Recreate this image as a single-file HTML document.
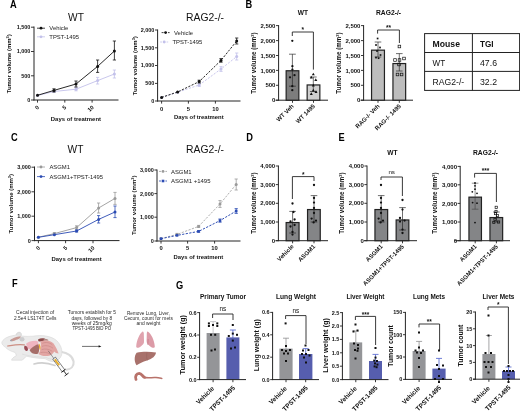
<!DOCTYPE html>
<html lang="en">
<head>
<meta charset="utf-8">
<title>Figure: tumor growth inhibition panels A-G</title>
<style>
html,body{margin:0;padding:0;background:#fff;}
body{width:520px;height:411px;overflow:hidden;}
svg{display:block;font-family:'Liberation Sans', Arial, sans-serif;}
</style>
</head>
<body>
<svg width="520" height="411" viewBox="0 0 520 411" font-family="Liberation Sans, Arial, sans-serif">
<rect x="0" y="0" width="520" height="411" fill="#ffffff"/>
<text transform="translate(10.00 7.70) scale(0.9 1)" x="0" y="0" font-size="10.3" font-weight="bold" fill="#000">A</text>
<text transform="translate(245.60 8.10) scale(0.9 1)" x="0" y="0" font-size="10.3" font-weight="bold" fill="#000">B</text>
<text transform="translate(11.00 141.40) scale(0.9 1)" x="0" y="0" font-size="10.3" font-weight="bold" fill="#000">C</text>
<text transform="translate(246.20 141.10) scale(0.9 1)" x="0" y="0" font-size="10.3" font-weight="bold" fill="#000">D</text>
<text transform="translate(338.60 141.20) scale(0.9 1)" x="0" y="0" font-size="10.3" font-weight="bold" fill="#000">E</text>
<text transform="translate(12.10 287.00) scale(0.9 1)" x="0" y="0" font-size="10.3" font-weight="bold" fill="#000">F</text>
<text transform="translate(176.00 289.10) scale(0.9 1)" x="0" y="0" font-size="10.3" font-weight="bold" fill="#000">G</text>
<text x="76.00" y="21.30" font-size="10.2" text-anchor="middle" fill="#111">WT</text>
<line x1="34.00" y1="26.50" x2="34.00" y2="100.50" stroke="#242424" stroke-width="1"/>
<line x1="31.00" y1="27.20" x2="34.00" y2="27.20" stroke="#242424" stroke-width="0.9"/>
<text x="30.40" y="29.18" font-size="5.5" text-anchor="end" fill="#111" font-weight="bold">1,500</text>
<line x1="31.00" y1="51.50" x2="34.00" y2="51.50" stroke="#242424" stroke-width="0.9"/>
<text x="30.40" y="53.48" font-size="5.5" text-anchor="end" fill="#111" font-weight="bold">1,000</text>
<line x1="31.00" y1="75.80" x2="34.00" y2="75.80" stroke="#242424" stroke-width="0.9"/>
<text x="30.40" y="77.78" font-size="5.5" text-anchor="end" fill="#111" font-weight="bold">500</text>
<line x1="31.00" y1="100.00" x2="34.00" y2="100.00" stroke="#242424" stroke-width="0.9"/>
<text x="30.40" y="101.98" font-size="5.5" text-anchor="end" fill="#111" font-weight="bold">0</text>
<line x1="33.50" y1="100.00" x2="118.50" y2="100.00" stroke="#242424" stroke-width="1"/>
<text x="10.80" y="63.80" font-size="6.0" font-weight="bold" text-anchor="middle" fill="#111" textLength="59" lengthAdjust="spacingAndGlyphs" transform="rotate(-90 10.80 63.80)">Tumor volume (mm<tspan font-size="3.9" dy="-2">3</tspan><tspan dy="2">)</tspan></text>
<line x1="37.50" y1="100.00" x2="37.50" y2="102.60" stroke="#242424" stroke-width="0.9"/>
<text x="39.50" y="107.70" font-size="5.6" text-anchor="end" fill="#111" font-weight="bold" transform="rotate(-45 39.50 107.70)">0</text>
<line x1="64.80" y1="100.00" x2="64.80" y2="102.60" stroke="#242424" stroke-width="0.9"/>
<text x="66.80" y="107.70" font-size="5.6" text-anchor="end" fill="#111" font-weight="bold" transform="rotate(-45 66.80 107.70)">5</text>
<line x1="92.10" y1="100.00" x2="92.10" y2="102.60" stroke="#242424" stroke-width="0.9"/>
<text x="94.10" y="107.70" font-size="5.6" text-anchor="end" fill="#111" font-weight="bold" transform="rotate(-45 94.10 107.70)">10</text>
<text x="75.90" y="120.60" font-size="5.9" text-anchor="middle" fill="#111" font-weight="bold" textLength="50.2" lengthAdjust="spacingAndGlyphs">Days of treatment</text>
<path d="M37.50 95.50 L54.00 91.50 L76.00 89.20 L97.60 80.60 L114.40 74.00" fill="none" stroke="#c3c1ea" stroke-width="0.9"/>
<circle cx="37.50" cy="95.50" r="1.5" fill="#c3c1ea"/>
<circle cx="54.00" cy="91.50" r="1.5" fill="#c3c1ea"/>
<line x1="76.00" y1="87.60" x2="76.00" y2="90.80" stroke="#c3c1ea" stroke-width="0.8"/>
<line x1="74.40" y1="87.60" x2="77.60" y2="87.60" stroke="#c3c1ea" stroke-width="0.8"/>
<line x1="74.40" y1="90.80" x2="77.60" y2="90.80" stroke="#c3c1ea" stroke-width="0.8"/>
<circle cx="76.00" cy="89.20" r="1.5" fill="#c3c1ea"/>
<line x1="97.60" y1="77.40" x2="97.60" y2="84.00" stroke="#c3c1ea" stroke-width="0.8"/>
<line x1="96.00" y1="77.40" x2="99.20" y2="77.40" stroke="#c3c1ea" stroke-width="0.8"/>
<line x1="96.00" y1="84.00" x2="99.20" y2="84.00" stroke="#c3c1ea" stroke-width="0.8"/>
<circle cx="97.60" cy="80.60" r="1.5" fill="#c3c1ea"/>
<line x1="114.40" y1="70.00" x2="114.40" y2="78.00" stroke="#c3c1ea" stroke-width="0.8"/>
<line x1="112.80" y1="70.00" x2="116.00" y2="70.00" stroke="#c3c1ea" stroke-width="0.8"/>
<line x1="112.80" y1="78.00" x2="116.00" y2="78.00" stroke="#c3c1ea" stroke-width="0.8"/>
<circle cx="114.40" cy="74.00" r="1.5" fill="#c3c1ea"/>
<path d="M37.50 95.30 L54.00 90.40 L76.00 84.00 L97.60 66.40 L114.40 51.00" fill="none" stroke="#111" stroke-width="0.9"/>
<circle cx="37.50" cy="95.30" r="1.5" fill="#111"/>
<line x1="54.00" y1="88.80" x2="54.00" y2="92.00" stroke="#111" stroke-width="0.8"/>
<line x1="52.40" y1="88.80" x2="55.60" y2="88.80" stroke="#111" stroke-width="0.8"/>
<line x1="52.40" y1="92.00" x2="55.60" y2="92.00" stroke="#111" stroke-width="0.8"/>
<circle cx="54.00" cy="90.40" r="1.5" fill="#111"/>
<line x1="76.00" y1="81.00" x2="76.00" y2="87.00" stroke="#111" stroke-width="0.8"/>
<line x1="74.40" y1="81.00" x2="77.60" y2="81.00" stroke="#111" stroke-width="0.8"/>
<line x1="74.40" y1="87.00" x2="77.60" y2="87.00" stroke="#111" stroke-width="0.8"/>
<circle cx="76.00" cy="84.00" r="1.5" fill="#111"/>
<line x1="97.60" y1="60.00" x2="97.60" y2="72.40" stroke="#111" stroke-width="0.8"/>
<line x1="96.00" y1="60.00" x2="99.20" y2="60.00" stroke="#111" stroke-width="0.8"/>
<line x1="96.00" y1="72.40" x2="99.20" y2="72.40" stroke="#111" stroke-width="0.8"/>
<circle cx="97.60" cy="66.40" r="1.5" fill="#111"/>
<line x1="114.40" y1="41.00" x2="114.40" y2="60.00" stroke="#111" stroke-width="0.8"/>
<line x1="112.80" y1="41.00" x2="116.00" y2="41.00" stroke="#111" stroke-width="0.8"/>
<line x1="112.80" y1="60.00" x2="116.00" y2="60.00" stroke="#111" stroke-width="0.8"/>
<circle cx="114.40" cy="51.00" r="1.5" fill="#111"/>
<line x1="37.00" y1="28.20" x2="45.00" y2="28.20" stroke="#111" stroke-width="0.8"/>
<circle cx="41.00" cy="28.20" r="1.4" fill="#111"/>
<text x="49.30" y="30.32" font-size="5.9" text-anchor="start" fill="#222">Vehicle</text>
<line x1="37.00" y1="36.80" x2="45.00" y2="36.80" stroke="#c3c1ea" stroke-width="0.8"/>
<circle cx="41.00" cy="36.80" r="1.4" fill="#c3c1ea"/>
<text x="49.30" y="38.92" font-size="5.9" text-anchor="start" fill="#222">TPST-1495</text>
<text x="205.00" y="21.30" font-size="10.2" text-anchor="middle" fill="#111" textLength="38" lengthAdjust="spacingAndGlyphs">RAG2-/-</text>
<line x1="157.60" y1="29.50" x2="157.60" y2="101.50" stroke="#242424" stroke-width="1"/>
<line x1="155.00" y1="30.00" x2="157.60" y2="30.00" stroke="#242424" stroke-width="0.9"/>
<text x="154.40" y="31.98" font-size="5.5" text-anchor="end" fill="#111" font-weight="bold">2,000</text>
<line x1="155.00" y1="47.80" x2="157.60" y2="47.80" stroke="#242424" stroke-width="0.9"/>
<text x="154.40" y="49.78" font-size="5.5" text-anchor="end" fill="#111" font-weight="bold">1,500</text>
<line x1="155.00" y1="65.50" x2="157.60" y2="65.50" stroke="#242424" stroke-width="0.9"/>
<text x="154.40" y="67.48" font-size="5.5" text-anchor="end" fill="#111" font-weight="bold">1,000</text>
<line x1="155.00" y1="83.40" x2="157.60" y2="83.40" stroke="#242424" stroke-width="0.9"/>
<text x="154.40" y="85.38" font-size="5.5" text-anchor="end" fill="#111" font-weight="bold">500</text>
<line x1="155.00" y1="101.00" x2="157.60" y2="101.00" stroke="#242424" stroke-width="0.9"/>
<text x="154.40" y="102.98" font-size="5.5" text-anchor="end" fill="#111" font-weight="bold">0</text>
<line x1="157.10" y1="101.00" x2="240.50" y2="101.00" stroke="#242424" stroke-width="1"/>
<text x="136.80" y="65.70" font-size="6.0" font-weight="bold" text-anchor="middle" fill="#111" textLength="59" lengthAdjust="spacingAndGlyphs" transform="rotate(-90 136.80 65.70)">Tumor volume (mm<tspan font-size="3.9" dy="-2">3</tspan><tspan dy="2">)</tspan></text>
<line x1="161.60" y1="101.00" x2="161.60" y2="103.60" stroke="#242424" stroke-width="0.9"/>
<text x="161.60" y="110.50" font-size="5.8" text-anchor="middle" fill="#111" font-weight="bold">0</text>
<line x1="188.40" y1="101.00" x2="188.40" y2="103.60" stroke="#242424" stroke-width="0.9"/>
<text x="188.40" y="110.50" font-size="5.8" text-anchor="middle" fill="#111" font-weight="bold">5</text>
<line x1="215.40" y1="101.00" x2="215.40" y2="103.60" stroke="#242424" stroke-width="0.9"/>
<text x="215.40" y="110.50" font-size="5.8" text-anchor="middle" fill="#111" font-weight="bold">10</text>
<text x="198.80" y="118.60" font-size="5.9" text-anchor="middle" fill="#111" font-weight="bold" textLength="49.8" lengthAdjust="spacingAndGlyphs">Days of treatment</text>
<path d="M161.60 97.40 L177.60 92.20 L199.20 85.00 L221.00 69.00 L236.70 56.60" fill="none" stroke="#c3c1ea" stroke-width="0.9" stroke-dasharray="2.2 1.4"/>
<circle cx="161.60" cy="97.40" r="1.5" fill="#c3c1ea"/>
<circle cx="177.60" cy="92.20" r="1.5" fill="#c3c1ea"/>
<line x1="199.20" y1="83.60" x2="199.20" y2="86.40" stroke="#c3c1ea" stroke-width="0.8"/>
<line x1="197.60" y1="83.60" x2="200.80" y2="83.60" stroke="#c3c1ea" stroke-width="0.8"/>
<line x1="197.60" y1="86.40" x2="200.80" y2="86.40" stroke="#c3c1ea" stroke-width="0.8"/>
<circle cx="199.20" cy="85.00" r="1.5" fill="#c3c1ea"/>
<line x1="221.00" y1="66.60" x2="221.00" y2="71.40" stroke="#c3c1ea" stroke-width="0.8"/>
<line x1="219.40" y1="66.60" x2="222.60" y2="66.60" stroke="#c3c1ea" stroke-width="0.8"/>
<line x1="219.40" y1="71.40" x2="222.60" y2="71.40" stroke="#c3c1ea" stroke-width="0.8"/>
<circle cx="221.00" cy="69.00" r="1.5" fill="#c3c1ea"/>
<line x1="236.70" y1="53.00" x2="236.70" y2="60.00" stroke="#c3c1ea" stroke-width="0.8"/>
<line x1="235.10" y1="53.00" x2="238.30" y2="53.00" stroke="#c3c1ea" stroke-width="0.8"/>
<line x1="235.10" y1="60.00" x2="238.30" y2="60.00" stroke="#c3c1ea" stroke-width="0.8"/>
<circle cx="236.70" cy="56.60" r="1.5" fill="#c3c1ea"/>
<path d="M161.60 97.40 L177.60 92.00 L199.20 81.60 L221.00 60.40 L236.70 41.00" fill="none" stroke="#111" stroke-width="0.9" stroke-dasharray="2.2 1.4"/>
<circle cx="161.60" cy="97.40" r="1.5" fill="#111"/>
<circle cx="177.60" cy="92.00" r="1.5" fill="#111"/>
<line x1="199.20" y1="80.20" x2="199.20" y2="83.00" stroke="#111" stroke-width="0.8"/>
<line x1="197.60" y1="80.20" x2="200.80" y2="80.20" stroke="#111" stroke-width="0.8"/>
<line x1="197.60" y1="83.00" x2="200.80" y2="83.00" stroke="#111" stroke-width="0.8"/>
<circle cx="199.20" cy="81.60" r="1.5" fill="#111"/>
<line x1="221.00" y1="58.60" x2="221.00" y2="62.20" stroke="#111" stroke-width="0.8"/>
<line x1="219.40" y1="58.60" x2="222.60" y2="58.60" stroke="#111" stroke-width="0.8"/>
<line x1="219.40" y1="62.20" x2="222.60" y2="62.20" stroke="#111" stroke-width="0.8"/>
<circle cx="221.00" cy="60.40" r="1.5" fill="#111"/>
<line x1="236.70" y1="38.00" x2="236.70" y2="44.00" stroke="#111" stroke-width="0.8"/>
<line x1="235.10" y1="38.00" x2="238.30" y2="38.00" stroke="#111" stroke-width="0.8"/>
<line x1="235.10" y1="44.00" x2="238.30" y2="44.00" stroke="#111" stroke-width="0.8"/>
<circle cx="236.70" cy="41.00" r="1.5" fill="#111"/>
<line x1="161.60" y1="32.60" x2="169.60" y2="32.60" stroke="#111" stroke-width="0.8" stroke-dasharray="2 1.2"/>
<circle cx="165.60" cy="32.60" r="1.4" fill="#111"/>
<text x="174.00" y="34.72" font-size="5.9" text-anchor="start" fill="#222">Vehicle</text>
<line x1="160.20" y1="42.00" x2="168.20" y2="42.00" stroke="#c3c1ea" stroke-width="0.8" stroke-dasharray="2 1.2"/>
<circle cx="164.20" cy="42.00" r="1.4" fill="#c3c1ea"/>
<text x="172.50" y="44.12" font-size="5.9" text-anchor="start" fill="#222">TPST-1495</text>
<text x="303.00" y="15.20" font-size="6.6" text-anchor="middle" fill="#111" font-weight="bold">WT</text>
<line x1="278.60" y1="25.10" x2="278.60" y2="100.70" stroke="#242424" stroke-width="1"/>
<line x1="276.00" y1="25.60" x2="278.60" y2="25.60" stroke="#242424" stroke-width="0.9"/>
<text x="275.40" y="27.76" font-size="6.0" text-anchor="end" fill="#111" font-weight="bold">2,500</text>
<line x1="276.00" y1="40.60" x2="278.60" y2="40.60" stroke="#242424" stroke-width="0.9"/>
<text x="275.40" y="42.76" font-size="6.0" text-anchor="end" fill="#111" font-weight="bold">2,000</text>
<line x1="276.00" y1="55.50" x2="278.60" y2="55.50" stroke="#242424" stroke-width="0.9"/>
<text x="275.40" y="57.66" font-size="6.0" text-anchor="end" fill="#111" font-weight="bold">1,500</text>
<line x1="276.00" y1="70.40" x2="278.60" y2="70.40" stroke="#242424" stroke-width="0.9"/>
<text x="275.40" y="72.56" font-size="6.0" text-anchor="end" fill="#111" font-weight="bold">1,000</text>
<line x1="276.00" y1="85.30" x2="278.60" y2="85.30" stroke="#242424" stroke-width="0.9"/>
<text x="275.40" y="87.46" font-size="6.0" text-anchor="end" fill="#111" font-weight="bold">500</text>
<line x1="276.00" y1="100.20" x2="278.60" y2="100.20" stroke="#242424" stroke-width="0.9"/>
<text x="275.40" y="102.36" font-size="6.0" text-anchor="end" fill="#111" font-weight="bold">0</text>
<line x1="275.50" y1="100.20" x2="328.00" y2="100.20" stroke="#242424" stroke-width="1"/>
<text x="255.70" y="63.00" font-size="6.3" font-weight="bold" text-anchor="middle" fill="#111" textLength="61.3" lengthAdjust="spacingAndGlyphs" transform="rotate(-90 255.70 63.00)">Tumor volume (mm<tspan font-size="4.1" dy="-2">3</tspan><tspan dy="2">)</tspan></text>
<rect x="286.15" y="70.75" width="12.70" height="29.45" fill="#7d7d7d" stroke="#222" stroke-width="1.2"/>
<rect x="307.15" y="84.95" width="12.70" height="15.25" fill="#cfcfcf" stroke="#222" stroke-width="1.2"/>
<line x1="292.40" y1="54.20" x2="292.40" y2="86.20" stroke="#222" stroke-width="0.65"/>
<line x1="289.00" y1="54.20" x2="295.80" y2="54.20" stroke="#222" stroke-width="0.65"/>
<line x1="289.00" y1="86.20" x2="295.80" y2="86.20" stroke="#222" stroke-width="0.65"/>
<line x1="313.30" y1="77.00" x2="313.30" y2="91.50" stroke="#222" stroke-width="0.65"/>
<line x1="309.90" y1="77.00" x2="316.70" y2="77.00" stroke="#222" stroke-width="0.65"/>
<line x1="309.90" y1="91.50" x2="316.70" y2="91.50" stroke="#222" stroke-width="0.65"/>
<circle cx="292.30" cy="40.80" r="1.15" fill="#111"/>
<circle cx="292.40" cy="66.20" r="1.15" fill="#111"/>
<circle cx="292.40" cy="69.60" r="1.15" fill="#111"/>
<circle cx="290.00" cy="77.30" r="1.15" fill="#111"/>
<circle cx="294.50" cy="75.20" r="1.15" fill="#111"/>
<circle cx="292.30" cy="86.20" r="1.15" fill="#111"/>
<circle cx="292.30" cy="90.20" r="1.15" fill="#111"/>
<path d="M313.30 72.64 L314.80 75.37 L311.81 75.37Z" fill="#111"/>
<path d="M311.30 75.74 L312.80 78.47 L309.81 78.47Z" fill="#111"/>
<path d="M315.80 78.24 L317.30 80.97 L314.31 80.97Z" fill="#111"/>
<path d="M313.30 83.74 L314.80 86.47 L311.81 86.47Z" fill="#111"/>
<path d="M313.30 88.74 L314.80 91.47 L311.81 91.47Z" fill="#111"/>
<path d="M316.00 90.24 L317.50 92.97 L314.50 92.97Z" fill="#111"/>
<path d="M311.30 92.24 L312.80 94.97 L309.81 94.97Z" fill="#111"/>
<path d="M292.30 36.00 V32.00 H313.40 V69.60" fill="none" stroke="#242424" stroke-width="0.9"/>
<text x="302.85" y="31.60" font-size="6.5" text-anchor="middle" fill="#111" font-weight="bold">*</text>
<line x1="292.50" y1="100.20" x2="292.50" y2="102.80" stroke="#242424" stroke-width="0.9"/>
<line x1="313.50" y1="100.20" x2="313.50" y2="102.80" stroke="#242424" stroke-width="0.9"/>
<text x="294.20" y="106.60" font-size="6.0" text-anchor="end" fill="#111" font-weight="bold" transform="rotate(-45 294.20 106.60)">WT Veh</text>
<text x="315.40" y="106.60" font-size="6.0" text-anchor="end" fill="#111" font-weight="bold" transform="rotate(-45 315.40 106.60)">WT 1495</text>
<text x="388.50" y="15.20" font-size="6.6" text-anchor="middle" fill="#111" font-weight="bold" textLength="25" lengthAdjust="spacingAndGlyphs">RAG2-/-</text>
<line x1="363.60" y1="25.10" x2="363.60" y2="100.70" stroke="#242424" stroke-width="1"/>
<line x1="361.00" y1="25.60" x2="363.60" y2="25.60" stroke="#242424" stroke-width="0.9"/>
<text x="360.40" y="27.76" font-size="6.0" text-anchor="end" fill="#111" font-weight="bold">2,500</text>
<line x1="361.00" y1="40.60" x2="363.60" y2="40.60" stroke="#242424" stroke-width="0.9"/>
<text x="360.40" y="42.76" font-size="6.0" text-anchor="end" fill="#111" font-weight="bold">2,000</text>
<line x1="361.00" y1="55.50" x2="363.60" y2="55.50" stroke="#242424" stroke-width="0.9"/>
<text x="360.40" y="57.66" font-size="6.0" text-anchor="end" fill="#111" font-weight="bold">1,500</text>
<line x1="361.00" y1="70.40" x2="363.60" y2="70.40" stroke="#242424" stroke-width="0.9"/>
<text x="360.40" y="72.56" font-size="6.0" text-anchor="end" fill="#111" font-weight="bold">1,000</text>
<line x1="361.00" y1="85.30" x2="363.60" y2="85.30" stroke="#242424" stroke-width="0.9"/>
<text x="360.40" y="87.46" font-size="6.0" text-anchor="end" fill="#111" font-weight="bold">500</text>
<line x1="361.00" y1="100.20" x2="363.60" y2="100.20" stroke="#242424" stroke-width="0.9"/>
<text x="360.40" y="102.36" font-size="6.0" text-anchor="end" fill="#111" font-weight="bold">0</text>
<line x1="360.50" y1="100.20" x2="413.00" y2="100.20" stroke="#242424" stroke-width="1"/>
<text x="340.50" y="63.00" font-size="6.3" font-weight="bold" text-anchor="middle" fill="#111" textLength="61.3" lengthAdjust="spacingAndGlyphs" transform="rotate(-90 340.50 63.00)">Tumor volume (mm<tspan font-size="4.1" dy="-2">3</tspan><tspan dy="2">)</tspan></text>
<rect x="371.55" y="50.15" width="12.90" height="50.05" fill="#bdbdbd" stroke="#222" stroke-width="1.2"/>
<rect x="392.95" y="63.55" width="12.70" height="36.65" fill="#bdbdbd" stroke="#222" stroke-width="1.2"/>
<line x1="378.00" y1="42.00" x2="378.00" y2="57.00" stroke="#222" stroke-width="0.65"/>
<line x1="374.70" y1="42.00" x2="381.30" y2="42.00" stroke="#222" stroke-width="0.65"/>
<line x1="374.70" y1="57.00" x2="381.30" y2="57.00" stroke="#222" stroke-width="0.65"/>
<line x1="399.30" y1="53.60" x2="399.30" y2="71.00" stroke="#222" stroke-width="0.65"/>
<line x1="396.00" y1="53.60" x2="402.60" y2="53.60" stroke="#222" stroke-width="0.65"/>
<line x1="396.00" y1="71.00" x2="402.60" y2="71.00" stroke="#222" stroke-width="0.65"/>
<rect x="376.75" y="37.65" width="1.70" height="1.70" fill="#111"/>
<rect x="375.15" y="44.15" width="1.70" height="1.70" fill="#111"/>
<rect x="379.15" y="46.65" width="1.70" height="1.70" fill="#111"/>
<rect x="376.15" y="50.15" width="1.70" height="1.70" fill="#111"/>
<rect x="379.65" y="54.15" width="1.70" height="1.70" fill="#111"/>
<rect x="375.15" y="56.75" width="1.70" height="1.70" fill="#111"/>
<rect x="377.75" y="57.35" width="1.70" height="1.70" fill="#111"/>
<rect x="398.10" y="45.20" width="2.60" height="2.60" fill="none" stroke="#111" stroke-width="0.7"/>
<rect x="393.70" y="58.70" width="2.60" height="2.60" fill="none" stroke="#111" stroke-width="0.7"/>
<rect x="398.20" y="58.70" width="2.60" height="2.60" fill="none" stroke="#111" stroke-width="0.7"/>
<rect x="402.70" y="57.20" width="2.60" height="2.60" fill="none" stroke="#111" stroke-width="0.7"/>
<rect x="397.70" y="63.20" width="2.60" height="2.60" fill="none" stroke="#111" stroke-width="0.7"/>
<rect x="396.20" y="73.20" width="2.60" height="2.60" fill="none" stroke="#111" stroke-width="0.7"/>
<rect x="400.30" y="73.20" width="2.60" height="2.60" fill="none" stroke="#111" stroke-width="0.7"/>
<path d="M377.60 33.60 V30.00 H399.40 V43.00" fill="none" stroke="#242424" stroke-width="0.9"/>
<text x="388.50" y="30.00" font-size="6.5" text-anchor="middle" fill="#111" font-weight="bold">**</text>
<line x1="378.00" y1="100.20" x2="378.00" y2="102.80" stroke="#242424" stroke-width="0.9"/>
<line x1="399.30" y1="100.20" x2="399.30" y2="102.80" stroke="#242424" stroke-width="0.9"/>
<text x="380.00" y="106.60" font-size="6.0" text-anchor="end" fill="#111" font-weight="bold" transform="rotate(-45 380.00 106.60)">RAG-/- Veh</text>
<text x="401.40" y="106.60" font-size="6.0" text-anchor="end" fill="#111" font-weight="bold" transform="rotate(-45 401.40 106.60)">RAG-/- 1495</text>
<g stroke="#222" stroke-width="1" fill="none">
<rect x="424.6" y="33.6" width="95" height="56.8"/>
<path d="M424.6 52.5H520M424.6 71.4H520M472.4 33.6V90.4"/>
</g>
<text x="432.60" y="46.50" font-size="8.9" text-anchor="start" fill="#111" font-weight="bold" textLength="27.4" lengthAdjust="spacingAndGlyphs">Mouse</text>
<text x="480.00" y="46.50" font-size="8.9" text-anchor="start" fill="#111" font-weight="bold" textLength="13.6" lengthAdjust="spacingAndGlyphs">TGI</text>
<text x="432.60" y="65.70" font-size="8.9" text-anchor="start" fill="#111" textLength="12.6" lengthAdjust="spacingAndGlyphs">WT</text>
<text x="480.00" y="65.70" font-size="8.9" text-anchor="start" fill="#111" textLength="17" lengthAdjust="spacingAndGlyphs">47.6</text>
<text x="432.60" y="84.70" font-size="8.9" text-anchor="start" fill="#111" textLength="31.6" lengthAdjust="spacingAndGlyphs">RAG2-/-</text>
<text x="480.00" y="84.70" font-size="8.9" text-anchor="start" fill="#111" textLength="17" lengthAdjust="spacingAndGlyphs">32.2</text>
<text x="75.50" y="152.80" font-size="10.2" text-anchor="middle" fill="#111">WT</text>
<line x1="34.50" y1="166.50" x2="34.50" y2="241.10" stroke="#242424" stroke-width="1"/>
<line x1="31.50" y1="167.20" x2="34.50" y2="167.20" stroke="#242424" stroke-width="0.9"/>
<text x="30.90" y="169.18" font-size="5.5" text-anchor="end" fill="#111" font-weight="bold">3,000</text>
<line x1="31.50" y1="191.80" x2="34.50" y2="191.80" stroke="#242424" stroke-width="0.9"/>
<text x="30.90" y="193.78" font-size="5.5" text-anchor="end" fill="#111" font-weight="bold">2,000</text>
<line x1="31.50" y1="216.20" x2="34.50" y2="216.20" stroke="#242424" stroke-width="0.9"/>
<text x="30.90" y="218.18" font-size="5.5" text-anchor="end" fill="#111" font-weight="bold">1,000</text>
<line x1="31.50" y1="240.60" x2="34.50" y2="240.60" stroke="#242424" stroke-width="0.9"/>
<text x="30.90" y="242.58" font-size="5.5" text-anchor="end" fill="#111" font-weight="bold">0</text>
<line x1="34.00" y1="240.60" x2="119.50" y2="240.60" stroke="#242424" stroke-width="1"/>
<text x="12.60" y="203.70" font-size="6.0" font-weight="bold" text-anchor="middle" fill="#111" textLength="59.5" lengthAdjust="spacingAndGlyphs" transform="rotate(-90 12.60 203.70)">Tumor volume (mm<tspan font-size="3.9" dy="-2">3</tspan><tspan dy="2">)</tspan></text>
<line x1="38.40" y1="240.60" x2="38.40" y2="243.20" stroke="#242424" stroke-width="0.9"/>
<text x="40.40" y="248.30" font-size="5.6" text-anchor="end" fill="#111" font-weight="bold" transform="rotate(-45 40.40 248.30)">0</text>
<line x1="65.60" y1="240.60" x2="65.60" y2="243.20" stroke="#242424" stroke-width="0.9"/>
<text x="67.60" y="248.30" font-size="5.6" text-anchor="end" fill="#111" font-weight="bold" transform="rotate(-45 67.60 248.30)">5</text>
<line x1="93.00" y1="240.60" x2="93.00" y2="243.20" stroke="#242424" stroke-width="0.9"/>
<text x="95.00" y="248.30" font-size="5.6" text-anchor="end" fill="#111" font-weight="bold" transform="rotate(-45 95.00 248.30)">10</text>
<text x="76.60" y="260.60" font-size="5.9" text-anchor="middle" fill="#111" font-weight="bold" textLength="50.2" lengthAdjust="spacingAndGlyphs">Days of treatment</text>
<path d="M38.40 237.20 L54.40 233.60 L76.60 227.60 L98.60 208.00 L115.00 198.40" fill="none" stroke="#9a9a9a" stroke-width="0.9"/>
<circle cx="38.40" cy="237.20" r="1.5" fill="#9a9a9a"/>
<line x1="54.40" y1="232.60" x2="54.40" y2="234.60" stroke="#9a9a9a" stroke-width="0.8"/>
<line x1="52.80" y1="232.60" x2="56.00" y2="232.60" stroke="#9a9a9a" stroke-width="0.8"/>
<line x1="52.80" y1="234.60" x2="56.00" y2="234.60" stroke="#9a9a9a" stroke-width="0.8"/>
<circle cx="54.40" cy="233.60" r="1.5" fill="#9a9a9a"/>
<line x1="76.60" y1="225.80" x2="76.60" y2="229.40" stroke="#9a9a9a" stroke-width="0.8"/>
<line x1="75.00" y1="225.80" x2="78.20" y2="225.80" stroke="#9a9a9a" stroke-width="0.8"/>
<line x1="75.00" y1="229.40" x2="78.20" y2="229.40" stroke="#9a9a9a" stroke-width="0.8"/>
<circle cx="76.60" cy="227.60" r="1.5" fill="#9a9a9a"/>
<line x1="98.60" y1="203.00" x2="98.60" y2="213.00" stroke="#9a9a9a" stroke-width="0.8"/>
<line x1="97.00" y1="203.00" x2="100.20" y2="203.00" stroke="#9a9a9a" stroke-width="0.8"/>
<line x1="97.00" y1="213.00" x2="100.20" y2="213.00" stroke="#9a9a9a" stroke-width="0.8"/>
<circle cx="98.60" cy="208.00" r="1.5" fill="#9a9a9a"/>
<line x1="115.00" y1="192.40" x2="115.00" y2="204.40" stroke="#9a9a9a" stroke-width="0.8"/>
<line x1="113.40" y1="192.40" x2="116.60" y2="192.40" stroke="#9a9a9a" stroke-width="0.8"/>
<line x1="113.40" y1="204.40" x2="116.60" y2="204.40" stroke="#9a9a9a" stroke-width="0.8"/>
<circle cx="115.00" cy="198.40" r="1.5" fill="#9a9a9a"/>
<path d="M38.40 237.30 L54.40 234.70 L76.60 231.00 L98.60 219.40 L115.00 212.00" fill="none" stroke="#2b4bb3" stroke-width="0.9"/>
<circle cx="38.40" cy="237.30" r="1.5" fill="#2b4bb3"/>
<circle cx="54.40" cy="234.70" r="1.5" fill="#2b4bb3"/>
<line x1="76.60" y1="230.00" x2="76.60" y2="232.00" stroke="#2b4bb3" stroke-width="0.8"/>
<line x1="75.00" y1="230.00" x2="78.20" y2="230.00" stroke="#2b4bb3" stroke-width="0.8"/>
<line x1="75.00" y1="232.00" x2="78.20" y2="232.00" stroke="#2b4bb3" stroke-width="0.8"/>
<circle cx="76.60" cy="231.00" r="1.5" fill="#2b4bb3"/>
<line x1="98.60" y1="215.60" x2="98.60" y2="223.00" stroke="#2b4bb3" stroke-width="0.8"/>
<line x1="97.00" y1="215.60" x2="100.20" y2="215.60" stroke="#2b4bb3" stroke-width="0.8"/>
<line x1="97.00" y1="223.00" x2="100.20" y2="223.00" stroke="#2b4bb3" stroke-width="0.8"/>
<circle cx="98.60" cy="219.40" r="1.5" fill="#2b4bb3"/>
<line x1="115.00" y1="206.00" x2="115.00" y2="217.60" stroke="#2b4bb3" stroke-width="0.8"/>
<line x1="113.40" y1="206.00" x2="116.60" y2="206.00" stroke="#2b4bb3" stroke-width="0.8"/>
<line x1="113.40" y1="217.60" x2="116.60" y2="217.60" stroke="#2b4bb3" stroke-width="0.8"/>
<circle cx="115.00" cy="212.00" r="1.5" fill="#2b4bb3"/>
<line x1="37.00" y1="167.00" x2="45.00" y2="167.00" stroke="#9a9a9a" stroke-width="0.8"/>
<circle cx="41.00" cy="167.00" r="1.4" fill="#9a9a9a"/>
<text x="49.40" y="169.12" font-size="5.9" text-anchor="start" fill="#222">ASGM1</text>
<line x1="37.00" y1="176.60" x2="45.00" y2="176.60" stroke="#2b4bb3" stroke-width="0.8"/>
<circle cx="41.00" cy="176.60" r="1.4" fill="#2b4bb3"/>
<text x="49.40" y="178.72" font-size="5.9" text-anchor="start" fill="#222" textLength="53.6" lengthAdjust="spacingAndGlyphs">ASGM1+TPST-1495</text>
<text x="205.00" y="152.80" font-size="10.2" text-anchor="middle" fill="#111" textLength="38" lengthAdjust="spacingAndGlyphs">RAG2-/-</text>
<line x1="157.00" y1="169.50" x2="157.00" y2="241.50" stroke="#242424" stroke-width="1"/>
<line x1="154.40" y1="170.00" x2="157.00" y2="170.00" stroke="#242424" stroke-width="0.9"/>
<text x="153.80" y="171.98" font-size="5.5" text-anchor="end" fill="#111" font-weight="bold">3,000</text>
<line x1="154.40" y1="193.60" x2="157.00" y2="193.60" stroke="#242424" stroke-width="0.9"/>
<text x="153.80" y="195.58" font-size="5.5" text-anchor="end" fill="#111" font-weight="bold">2,000</text>
<line x1="154.40" y1="217.20" x2="157.00" y2="217.20" stroke="#242424" stroke-width="0.9"/>
<text x="153.80" y="219.18" font-size="5.5" text-anchor="end" fill="#111" font-weight="bold">1,000</text>
<line x1="154.40" y1="241.00" x2="157.00" y2="241.00" stroke="#242424" stroke-width="0.9"/>
<text x="153.80" y="242.98" font-size="5.5" text-anchor="end" fill="#111" font-weight="bold">0</text>
<line x1="156.50" y1="241.00" x2="240.50" y2="241.00" stroke="#242424" stroke-width="1"/>
<text x="136.20" y="205.30" font-size="6.0" font-weight="bold" text-anchor="middle" fill="#111" textLength="59.5" lengthAdjust="spacingAndGlyphs" transform="rotate(-90 136.20 205.30)">Tumor volume (mm<tspan font-size="3.9" dy="-2">3</tspan><tspan dy="2">)</tspan></text>
<line x1="161.00" y1="241.00" x2="161.00" y2="243.60" stroke="#242424" stroke-width="0.9"/>
<text x="161.00" y="250.40" font-size="5.8" text-anchor="middle" fill="#111" font-weight="bold">0</text>
<line x1="187.60" y1="241.00" x2="187.60" y2="243.60" stroke="#242424" stroke-width="0.9"/>
<text x="187.60" y="250.40" font-size="5.8" text-anchor="middle" fill="#111" font-weight="bold">5</text>
<line x1="214.60" y1="241.00" x2="214.60" y2="243.60" stroke="#242424" stroke-width="0.9"/>
<text x="214.60" y="250.40" font-size="5.8" text-anchor="middle" fill="#111" font-weight="bold">10</text>
<text x="198.40" y="259.00" font-size="5.9" text-anchor="middle" fill="#111" font-weight="bold" textLength="49.8" lengthAdjust="spacingAndGlyphs">Days of treatment</text>
<path d="M161.00 238.60 L177.00 234.40 L198.60 226.40 L220.00 204.00 L236.20 184.40" fill="none" stroke="#9a9a9a" stroke-width="0.8" stroke-dasharray="2.2 1.4"/>
<circle cx="161.00" cy="238.60" r="1.5" fill="#9a9a9a"/>
<line x1="177.00" y1="233.40" x2="177.00" y2="235.40" stroke="#9a9a9a" stroke-width="0.8"/>
<line x1="175.40" y1="233.40" x2="178.60" y2="233.40" stroke="#9a9a9a" stroke-width="0.8"/>
<line x1="175.40" y1="235.40" x2="178.60" y2="235.40" stroke="#9a9a9a" stroke-width="0.8"/>
<circle cx="177.00" cy="234.40" r="1.5" fill="#9a9a9a"/>
<line x1="198.60" y1="225.40" x2="198.60" y2="227.40" stroke="#9a9a9a" stroke-width="0.8"/>
<line x1="197.00" y1="225.40" x2="200.20" y2="225.40" stroke="#9a9a9a" stroke-width="0.8"/>
<line x1="197.00" y1="227.40" x2="200.20" y2="227.40" stroke="#9a9a9a" stroke-width="0.8"/>
<circle cx="198.60" cy="226.40" r="1.5" fill="#9a9a9a"/>
<line x1="220.00" y1="200.60" x2="220.00" y2="207.40" stroke="#9a9a9a" stroke-width="0.8"/>
<line x1="218.40" y1="200.60" x2="221.60" y2="200.60" stroke="#9a9a9a" stroke-width="0.8"/>
<line x1="218.40" y1="207.40" x2="221.60" y2="207.40" stroke="#9a9a9a" stroke-width="0.8"/>
<circle cx="220.00" cy="204.00" r="1.5" fill="#9a9a9a"/>
<line x1="236.20" y1="179.00" x2="236.20" y2="190.00" stroke="#9a9a9a" stroke-width="0.8"/>
<line x1="234.60" y1="179.00" x2="237.80" y2="179.00" stroke="#9a9a9a" stroke-width="0.8"/>
<line x1="234.60" y1="190.00" x2="237.80" y2="190.00" stroke="#9a9a9a" stroke-width="0.8"/>
<circle cx="236.20" cy="184.40" r="1.5" fill="#9a9a9a"/>
<path d="M161.00 238.70 L177.00 235.40 L198.60 231.40 L220.00 220.60 L236.20 211.00" fill="none" stroke="#2b4bb3" stroke-width="1" stroke-dasharray="2.2 1.4"/>
<rect x="159.70" y="237.40" width="2.60" height="2.60" fill="#2b4bb3"/>
<rect x="175.70" y="234.10" width="2.60" height="2.60" fill="#2b4bb3"/>
<line x1="198.60" y1="230.60" x2="198.60" y2="232.20" stroke="#2b4bb3" stroke-width="0.8"/>
<line x1="197.00" y1="230.60" x2="200.20" y2="230.60" stroke="#2b4bb3" stroke-width="0.8"/>
<line x1="197.00" y1="232.20" x2="200.20" y2="232.20" stroke="#2b4bb3" stroke-width="0.8"/>
<rect x="197.30" y="230.10" width="2.60" height="2.60" fill="#2b4bb3"/>
<line x1="220.00" y1="219.00" x2="220.00" y2="222.20" stroke="#2b4bb3" stroke-width="0.8"/>
<line x1="218.40" y1="219.00" x2="221.60" y2="219.00" stroke="#2b4bb3" stroke-width="0.8"/>
<line x1="218.40" y1="222.20" x2="221.60" y2="222.20" stroke="#2b4bb3" stroke-width="0.8"/>
<rect x="218.70" y="219.30" width="2.60" height="2.60" fill="#2b4bb3"/>
<line x1="236.20" y1="208.60" x2="236.20" y2="213.40" stroke="#2b4bb3" stroke-width="0.8"/>
<line x1="234.60" y1="208.60" x2="237.80" y2="208.60" stroke="#2b4bb3" stroke-width="0.8"/>
<line x1="234.60" y1="213.40" x2="237.80" y2="213.40" stroke="#2b4bb3" stroke-width="0.8"/>
<rect x="234.90" y="209.70" width="2.60" height="2.60" fill="#2b4bb3"/>
<line x1="159.00" y1="171.40" x2="167.00" y2="171.40" stroke="#9a9a9a" stroke-width="0.8" stroke-dasharray="2 1.2"/>
<circle cx="163.00" cy="171.40" r="1.4" fill="#9a9a9a"/>
<text x="171.00" y="173.52" font-size="5.9" text-anchor="start" fill="#222">ASGM1</text>
<line x1="159.00" y1="181.00" x2="167.00" y2="181.00" stroke="#2b4bb3" stroke-width="0.8" stroke-dasharray="2 1.2"/>
<rect x="161.70" y="179.70" width="2.60" height="2.60" fill="#2b4bb3"/>
<text x="171.00" y="183.12" font-size="5.9" text-anchor="start" fill="#222" textLength="39.5" lengthAdjust="spacingAndGlyphs">ASGM1 +1495</text>
<line x1="278.40" y1="165.50" x2="278.40" y2="241.20" stroke="#242424" stroke-width="1"/>
<line x1="275.80" y1="166.00" x2="278.40" y2="166.00" stroke="#242424" stroke-width="0.9"/>
<text x="275.20" y="168.16" font-size="6.0" text-anchor="end" fill="#111" font-weight="bold">4,000</text>
<line x1="275.80" y1="184.60" x2="278.40" y2="184.60" stroke="#242424" stroke-width="0.9"/>
<text x="275.20" y="186.76" font-size="6.0" text-anchor="end" fill="#111" font-weight="bold">3,000</text>
<line x1="275.80" y1="203.30" x2="278.40" y2="203.30" stroke="#242424" stroke-width="0.9"/>
<text x="275.20" y="205.46" font-size="6.0" text-anchor="end" fill="#111" font-weight="bold">2,000</text>
<line x1="275.80" y1="222.00" x2="278.40" y2="222.00" stroke="#242424" stroke-width="0.9"/>
<text x="275.20" y="224.16" font-size="6.0" text-anchor="end" fill="#111" font-weight="bold">1,000</text>
<line x1="275.80" y1="240.70" x2="278.40" y2="240.70" stroke="#242424" stroke-width="0.9"/>
<text x="275.20" y="242.86" font-size="6.0" text-anchor="end" fill="#111" font-weight="bold">0</text>
<line x1="275.50" y1="240.70" x2="328.00" y2="240.70" stroke="#242424" stroke-width="1"/>
<text x="255.70" y="203.00" font-size="6.3" font-weight="bold" text-anchor="middle" fill="#111" textLength="61.3" lengthAdjust="spacingAndGlyphs" transform="rotate(-90 255.70 203.00)">Tumor volume (mm<tspan font-size="4.1" dy="-2">3</tspan><tspan dy="2">)</tspan></text>
<rect x="286.15" y="222.55" width="12.90" height="18.15" fill="#848587" stroke="#222" stroke-width="1.2"/>
<rect x="307.55" y="209.55" width="12.70" height="31.15" fill="#848587" stroke="#222" stroke-width="1.2"/>
<line x1="292.60" y1="211.40" x2="292.60" y2="233.00" stroke="#222" stroke-width="0.65"/>
<line x1="289.30" y1="211.40" x2="295.90" y2="211.40" stroke="#222" stroke-width="0.65"/>
<line x1="289.30" y1="233.00" x2="295.90" y2="233.00" stroke="#222" stroke-width="0.65"/>
<line x1="314.00" y1="195.60" x2="314.00" y2="222.00" stroke="#222" stroke-width="0.65"/>
<line x1="310.70" y1="195.60" x2="317.30" y2="195.60" stroke="#222" stroke-width="0.65"/>
<line x1="310.70" y1="222.00" x2="317.30" y2="222.00" stroke="#222" stroke-width="0.65"/>
<circle cx="292.50" cy="203.50" r="1.15" fill="#111"/>
<circle cx="293.50" cy="212.00" r="1.15" fill="#111"/>
<circle cx="294.60" cy="219.50" r="1.15" fill="#111"/>
<circle cx="290.50" cy="221.50" r="1.15" fill="#111"/>
<circle cx="290.50" cy="226.50" r="1.15" fill="#111"/>
<circle cx="294.60" cy="225.00" r="1.15" fill="#111"/>
<circle cx="292.50" cy="232.00" r="1.15" fill="#111"/>
<circle cx="292.50" cy="234.60" r="1.15" fill="#111"/>
<circle cx="314.00" cy="185.00" r="1.15" fill="#111"/>
<circle cx="314.00" cy="198.00" r="1.15" fill="#111"/>
<circle cx="314.00" cy="202.60" r="1.15" fill="#111"/>
<circle cx="314.00" cy="208.00" r="1.15" fill="#111"/>
<circle cx="314.00" cy="213.00" r="1.15" fill="#111"/>
<circle cx="311.60" cy="218.60" r="1.15" fill="#111"/>
<circle cx="316.00" cy="220.60" r="1.15" fill="#111"/>
<circle cx="313.60" cy="222.40" r="1.15" fill="#111"/>
<path d="M292.40 199.00 V176.60 H314.00 V181.00" fill="none" stroke="#242424" stroke-width="0.9"/>
<text x="303.20" y="176.60" font-size="6.5" text-anchor="middle" fill="#111" font-weight="bold">*</text>
<line x1="292.60" y1="240.70" x2="292.60" y2="243.30" stroke="#242424" stroke-width="0.9"/>
<line x1="314.00" y1="240.70" x2="314.00" y2="243.30" stroke="#242424" stroke-width="0.9"/>
<text x="294.20" y="247.00" font-size="6.0" text-anchor="end" fill="#111" font-weight="bold" transform="rotate(-45 294.20 247.00)">Vehicle</text>
<text x="315.60" y="247.00" font-size="6.0" text-anchor="end" fill="#111" font-weight="bold" transform="rotate(-45 315.60 247.00)">ASGM1</text>
<text x="392.30" y="155.20" font-size="6.6" text-anchor="middle" fill="#111" font-weight="bold">WT</text>
<line x1="367.00" y1="165.50" x2="367.00" y2="241.20" stroke="#242424" stroke-width="1"/>
<line x1="364.40" y1="166.00" x2="367.00" y2="166.00" stroke="#242424" stroke-width="0.9"/>
<text x="363.80" y="168.16" font-size="6.0" text-anchor="end" fill="#111" font-weight="bold">4,000</text>
<line x1="364.40" y1="184.60" x2="367.00" y2="184.60" stroke="#242424" stroke-width="0.9"/>
<text x="363.80" y="186.76" font-size="6.0" text-anchor="end" fill="#111" font-weight="bold">3,000</text>
<line x1="364.40" y1="203.30" x2="367.00" y2="203.30" stroke="#242424" stroke-width="0.9"/>
<text x="363.80" y="205.46" font-size="6.0" text-anchor="end" fill="#111" font-weight="bold">2,000</text>
<line x1="364.40" y1="222.00" x2="367.00" y2="222.00" stroke="#242424" stroke-width="0.9"/>
<text x="363.80" y="224.16" font-size="6.0" text-anchor="end" fill="#111" font-weight="bold">1,000</text>
<line x1="364.40" y1="240.70" x2="367.00" y2="240.70" stroke="#242424" stroke-width="0.9"/>
<text x="363.80" y="242.86" font-size="6.0" text-anchor="end" fill="#111" font-weight="bold">0</text>
<line x1="364.00" y1="240.70" x2="417.00" y2="240.70" stroke="#242424" stroke-width="1"/>
<text x="344.00" y="203.00" font-size="6.3" font-weight="bold" text-anchor="middle" fill="#111" textLength="61.3" lengthAdjust="spacingAndGlyphs" transform="rotate(-90 344.00 203.00)">Tumor volume (mm<tspan font-size="4.1" dy="-2">3</tspan><tspan dy="2">)</tspan></text>
<rect x="374.95" y="209.55" width="12.70" height="31.15" fill="#848587" stroke="#222" stroke-width="1.2"/>
<rect x="396.15" y="219.95" width="12.70" height="20.75" fill="#848587" stroke="#222" stroke-width="1.2"/>
<line x1="381.20" y1="195.60" x2="381.20" y2="222.00" stroke="#222" stroke-width="0.65"/>
<line x1="377.90" y1="195.60" x2="384.50" y2="195.60" stroke="#222" stroke-width="0.65"/>
<line x1="377.90" y1="222.00" x2="384.50" y2="222.00" stroke="#222" stroke-width="0.65"/>
<line x1="402.50" y1="207.60" x2="402.50" y2="230.00" stroke="#222" stroke-width="0.65"/>
<line x1="399.20" y1="207.60" x2="405.80" y2="207.60" stroke="#222" stroke-width="0.65"/>
<line x1="399.20" y1="230.00" x2="405.80" y2="230.00" stroke="#222" stroke-width="0.65"/>
<circle cx="381.00" cy="185.00" r="1.15" fill="#111"/>
<circle cx="381.00" cy="198.00" r="1.15" fill="#111"/>
<circle cx="381.00" cy="202.60" r="1.15" fill="#111"/>
<circle cx="381.00" cy="208.00" r="1.15" fill="#111"/>
<circle cx="381.00" cy="213.00" r="1.15" fill="#111"/>
<circle cx="378.60" cy="218.60" r="1.15" fill="#111"/>
<circle cx="383.00" cy="220.60" r="1.15" fill="#111"/>
<circle cx="380.60" cy="222.40" r="1.15" fill="#111"/>
<circle cx="402.50" cy="200.00" r="1.15" fill="#111"/>
<circle cx="402.50" cy="209.60" r="1.15" fill="#111"/>
<circle cx="400.00" cy="218.00" r="1.15" fill="#111"/>
<circle cx="404.60" cy="220.60" r="1.15" fill="#111"/>
<circle cx="400.00" cy="221.60" r="1.15" fill="#111"/>
<circle cx="402.50" cy="229.60" r="1.15" fill="#111"/>
<circle cx="402.50" cy="233.00" r="1.15" fill="#111"/>
<path d="M381.00 180.00 V177.00 H402.40 V196.00" fill="none" stroke="#242424" stroke-width="0.9"/>
<text x="391.70" y="173.80" font-size="6.2" text-anchor="middle" fill="#111">ns</text>
<line x1="381.20" y1="240.70" x2="381.20" y2="243.30" stroke="#242424" stroke-width="0.9"/>
<line x1="402.50" y1="240.70" x2="402.50" y2="243.30" stroke="#242424" stroke-width="0.9"/>
<text x="383.20" y="247.00" font-size="6.0" text-anchor="end" fill="#111" font-weight="bold" transform="rotate(-45 383.20 247.00)">ASGM1</text>
<text x="404.40" y="247.00" font-size="6.0" text-anchor="end" fill="#111" font-weight="bold" transform="rotate(-45 404.40 247.00)">ASGM1+TPST-1495</text>
<text x="485.50" y="155.20" font-size="6.6" text-anchor="middle" fill="#111" font-weight="bold" textLength="25" lengthAdjust="spacingAndGlyphs">RAG2-/-</text>
<line x1="460.20" y1="165.90" x2="460.20" y2="241.20" stroke="#242424" stroke-width="1"/>
<line x1="457.60" y1="166.40" x2="460.20" y2="166.40" stroke="#242424" stroke-width="0.9"/>
<text x="457.00" y="168.56" font-size="6.0" text-anchor="end" fill="#111" font-weight="bold">4,000</text>
<line x1="457.60" y1="184.80" x2="460.20" y2="184.80" stroke="#242424" stroke-width="0.9"/>
<text x="457.00" y="186.96" font-size="6.0" text-anchor="end" fill="#111" font-weight="bold">3,000</text>
<line x1="457.60" y1="203.40" x2="460.20" y2="203.40" stroke="#242424" stroke-width="0.9"/>
<text x="457.00" y="205.56" font-size="6.0" text-anchor="end" fill="#111" font-weight="bold">2,000</text>
<line x1="457.60" y1="222.00" x2="460.20" y2="222.00" stroke="#242424" stroke-width="0.9"/>
<text x="457.00" y="224.16" font-size="6.0" text-anchor="end" fill="#111" font-weight="bold">1,000</text>
<line x1="457.60" y1="240.70" x2="460.20" y2="240.70" stroke="#242424" stroke-width="0.9"/>
<text x="457.00" y="242.86" font-size="6.0" text-anchor="end" fill="#111" font-weight="bold">0</text>
<line x1="454.50" y1="240.70" x2="510.00" y2="240.70" stroke="#242424" stroke-width="1"/>
<text x="437.00" y="203.00" font-size="6.3" font-weight="bold" text-anchor="middle" fill="#111" textLength="61.3" lengthAdjust="spacingAndGlyphs" transform="rotate(-90 437.00 203.00)">Tumor volume (mm<tspan font-size="4.1" dy="-2">3</tspan><tspan dy="2">)</tspan></text>
<rect x="468.95" y="197.15" width="12.50" height="43.55" fill="#848587" stroke="#222" stroke-width="1.2"/>
<rect x="489.95" y="217.55" width="12.70" height="23.15" fill="#848587" stroke="#222" stroke-width="1.2"/>
<line x1="475.10" y1="183.20" x2="475.10" y2="209.20" stroke="#3a3a3a" stroke-width="0.55"/>
<line x1="471.80" y1="183.20" x2="478.40" y2="183.20" stroke="#3a3a3a" stroke-width="0.55"/>
<line x1="471.80" y1="209.20" x2="478.40" y2="209.20" stroke="#3a3a3a" stroke-width="0.55"/>
<line x1="496.40" y1="212.00" x2="496.40" y2="222.00" stroke="#222" stroke-width="0.65"/>
<line x1="493.10" y1="212.00" x2="499.70" y2="212.00" stroke="#222" stroke-width="0.65"/>
<line x1="493.10" y1="222.00" x2="499.70" y2="222.00" stroke="#222" stroke-width="0.65"/>
<circle cx="475.00" cy="183.00" r="0.9" fill="#111"/>
<circle cx="475.00" cy="185.80" r="0.9" fill="#111"/>
<circle cx="475.00" cy="189.20" r="0.9" fill="#111"/>
<circle cx="472.30" cy="191.80" r="0.9" fill="#111"/>
<circle cx="477.00" cy="193.30" r="0.9" fill="#111"/>
<circle cx="472.60" cy="202.60" r="0.9" fill="#111"/>
<circle cx="477.00" cy="203.20" r="0.9" fill="#111"/>
<circle cx="475.00" cy="222.60" r="0.9" fill="#111"/>
<rect x="495.10" y="206.20" width="2.20" height="2.20" fill="none" stroke="#111" stroke-width="0.7"/>
<rect x="494.90" y="210.30" width="2.20" height="2.20" fill="none" stroke="#111" stroke-width="0.7"/>
<rect x="494.40" y="212.50" width="2.20" height="2.20" fill="none" stroke="#111" stroke-width="0.7"/>
<rect x="496.40" y="214.50" width="2.20" height="2.20" fill="none" stroke="#111" stroke-width="0.7"/>
<rect x="493.90" y="218.30" width="2.20" height="2.20" fill="none" stroke="#111" stroke-width="0.7"/>
<rect x="492.70" y="221.30" width="2.20" height="2.20" fill="none" stroke="#111" stroke-width="0.7"/>
<rect x="497.50" y="220.90" width="2.20" height="2.20" fill="none" stroke="#111" stroke-width="0.7"/>
<path d="M474.60 177.60 V173.40 H496.40 V202.00" fill="none" stroke="#242424" stroke-width="0.9"/>
<text x="485.50" y="173.40" font-size="6.5" text-anchor="middle" fill="#111" font-weight="bold">***</text>
<line x1="475.20" y1="240.70" x2="475.20" y2="243.30" stroke="#242424" stroke-width="0.9"/>
<line x1="496.40" y1="240.70" x2="496.40" y2="243.30" stroke="#242424" stroke-width="0.9"/>
<text x="477.20" y="247.00" font-size="6.0" text-anchor="end" fill="#111" font-weight="bold" transform="rotate(-45 477.20 247.00)">ASGM1</text>
<text x="498.40" y="247.00" font-size="6.0" text-anchor="end" fill="#111" font-weight="bold" transform="rotate(-45 498.40 247.00)">ASGM1+TPST-1495</text>
<text x="35.10" y="314.20" font-size="4.8" text-anchor="middle" fill="#2a2a2a" textLength="38" lengthAdjust="spacingAndGlyphs">Cecal injection of</text>
<text x="35.20" y="319.80" font-size="4.8" text-anchor="middle" fill="#2a2a2a" textLength="42.4" lengthAdjust="spacingAndGlyphs">2.5e4 LS174T Cells</text>
<text x="91.80" y="314.20" font-size="4.8" text-anchor="middle" fill="#2a2a2a" textLength="48.1" lengthAdjust="spacingAndGlyphs">Tumors establish for 5</text>
<text x="91.80" y="319.80" font-size="4.8" text-anchor="middle" fill="#2a2a2a" textLength="40.6" lengthAdjust="spacingAndGlyphs">days, followed by 8</text>
<text x="91.80" y="325.00" font-size="4.8" text-anchor="middle" fill="#2a2a2a" textLength="40.1" lengthAdjust="spacingAndGlyphs">weeks of 25mg/kg</text>
<text x="91.80" y="330.40" font-size="4.8" text-anchor="middle" fill="#2a2a2a" textLength="38.8" lengthAdjust="spacingAndGlyphs">TPST-1495 BID PO</text>
<text x="148.40" y="314.70" font-size="4.8" text-anchor="middle" fill="#2a2a2a" textLength="42.8" lengthAdjust="spacingAndGlyphs">Remove Lung, Liver,</text>
<text x="148.40" y="319.70" font-size="4.8" text-anchor="middle" fill="#2a2a2a" textLength="49" lengthAdjust="spacingAndGlyphs">Cecum, count for mets</text>
<text x="148.40" y="325.00" font-size="4.8" text-anchor="middle" fill="#2a2a2a" textLength="23.7" lengthAdjust="spacingAndGlyphs">and weight</text>
<line x1="82.00" y1="346.40" x2="99.60" y2="346.40" stroke="#111" stroke-width="0.6"/>
<path d="M101.4 346.4 L98.6 345.2 L98.6 347.6Z" fill="#111"/>
<g>
<path d="M61.6 352 C67 352.6 72.6 356 73.6 361.6 C74.2 366.4 70.6 369.2 66.4 369.8" fill="none" stroke="#dbdbdb" stroke-width="2.1" stroke-linecap="round"/>
<path d="M34 364 C40 362.2 48 362.8 55 365.4" fill="none" stroke="#cfcfcf" stroke-width="1.6" stroke-linecap="round"/>
<path d="M1.8 342.6 C2.6 339.4 7 336.6 13 335.6 L16 335 C16.2 332.6 18.6 331.6 20.4 332.4 C21.6 333.2 21.8 334.8 21.2 336 C25 336.4 29 336.6 33 336.2 C41 334.8 51 335.6 56.6 340.6 C60.6 344.4 62.8 350 61.6 355 C60.6 358.8 57 361.4 53 361.6 C50 361.6 47.6 360 45 358.6 C39 358.4 32 357.6 26.4 356.2 C25.2 357.6 23.6 359.2 22 360.2 L11.6 360.2 C11.4 358.6 14 357 16.4 355.6 C16 354.2 15.6 353.2 15 352.4 C11 351.4 7.4 349.6 5.4 347.2 C3.4 346 1.8 344.4 1.8 342.6Z" fill="#ebebeb" stroke="#d6d6d6" stroke-width="0.6"/>
<path d="M22 354 C28 356 38 357 46 357.4 C50 359.6 54 359.6 57 357" fill="none" stroke="#dcdcdc" stroke-width="0.8"/>
<path d="M16.4 335.4 C16.4 333 18.6 332 20.2 332.8 C21.2 333.6 21.2 335 20.6 336" fill="#e2e2e2" stroke="#d0d0d0" stroke-width="0.5"/>
<ellipse cx="22" cy="339.2" rx="2.5" ry="2.2" fill="#cdcdcf"/>
<path d="M10 340.6 C11.6 338.4 16 336.6 20.6 336.2 C21.4 337.6 18.6 339.2 15.4 340.2 C13.4 341.2 10.8 342 10 340.6Z" fill="#c79a94"/>
<circle cx="11" cy="340.6" r="0.8" fill="#9aa3b0"/>
<path d="M7.6 346 C11 345.6 16 344 24.4 344.8" fill="none" stroke="#cd8f84" stroke-width="1.2" stroke-linecap="round"/>
<path d="M26 343.8 C28.4 341.4 33.6 340.4 37.4 341 C38.8 342.6 38.8 345.6 37.4 348 C35 349.6 30.4 350 27.6 348.4Z" fill="#efb5c0"/>
<path d="M24.6 345.8 C26.4 345.4 27.6 347 28 349.2 C28 350.8 26.6 351.4 25.4 350.6 C24 349.4 23.8 347 24.6 345.8Z" fill="#9b4a54"/>
<path d="M29.6 350.2 C32 347 36.2 344.4 38.4 344.2 C39.4 346.6 39.6 351 38.2 353.4 C36 354.6 31.6 354.2 29.6 350.2Z" fill="#a66e69"/>
<path d="M38 339.4 C40.6 337.8 44.6 338 46.4 339.6 C45 341.2 41 341.8 38.4 341.2Z" fill="#8d4b4b"/>
<path d="M43.4 339.4 C45 338.6 47.6 339 48.6 340.2 C47 341 44.8 341 43.4 339.4Z" fill="#b08a84"/>
<path d="M39 343.6 C40.6 345 41.2 348.4 40.4 350.6 C39.2 349.4 38.6 345.8 39 343.6Z" fill="#ecb030"/>
<path d="M40.4 341.6 C44 339.6 50.6 340 53.6 343.4 C55.6 346.4 57.8 350.6 58.6 353.6 C56.6 353.6 55.2 352.6 54.2 351.6 C53.4 353.4 52 354.8 50 355.4 C46 356.6 41 356 38.4 354 C40.4 351.6 41.6 346.6 40.4 341.6Z" fill="#e2a5a3"/>
<path d="M42.4 343.4 C45.4 341.8 50 342.4 52.4 345 M42 346.4 C45 345 49.6 345.6 53 348.2 M41.6 349.6 C45 348.4 49 349 52.4 351.4 M40.4 352.6 C44 351.8 47.6 352.4 50.2 354.2" fill="none" stroke="#cc8a88" stroke-width="0.7"/>
<path d="M48.2 350.8 L53.8 358.4" stroke="#444" stroke-width="0.5"/>
<path d="M52.8 359.2 L55.4 357.2 L64.8 369.8 L62.2 371.8Z" fill="#fbfbfb" stroke="#2a2a2a" stroke-width="0.6"/>
<path d="M54 359.9 L55.5 358.8 L59.9 364.7 L58.4 365.8Z" fill="#e6ad2c"/>
<path d="M61.4 372.4 L65.6 369.2 M63.6 370.8 L66.6 374.6 M64.6 376 L68.6 373" stroke="#111" stroke-width="0.9" fill="none"/>
</g>
<g>
<path d="M142.6 331.4 C139.6 333.6 136.6 340 136.2 346.4 C136.4 348.4 138.6 348 141 346.2 C143 344.6 144.2 343.6 144 341 L143.8 333.2 C143.6 332 143.2 331.4 142.6 331.4Z" fill="#e0a3ae"/>
<path d="M147.8 331.4 C151 333.4 154.4 340 154.8 346.4 C154.6 348.6 152.4 348 150 346.2 C148 344.6 146.6 343.6 146.6 341 L146.8 333.2 C147 332 147.2 331.4 147.8 331.4Z" fill="#dc9ba7"/>
<path d="M148.2 339 L147.8 345" stroke="#b86a78" stroke-width="0.5"/>
<path d="M136.6 352.8 C142 351.4 150 351.4 156 352.6 C155.6 356 152.6 359 147 360.4 C142.6 361.6 139.4 363.6 136.6 365.2 C134.4 362.6 133.8 356.4 136.6 352.8Z" fill="#a8716b"/>
<path d="M147 352.4 C146.4 355.4 146.6 358.6 147.4 360.4" stroke="#93605b" stroke-width="0.5" fill="none"/>
<path d="M136 379.4 C134.8 376.4 136.4 373.4 139.2 373.4 C141.8 373.6 142.4 376.4 144.6 377.4" fill="none" stroke="#b8726a" stroke-width="2.8" stroke-linecap="round"/>
<path d="M143.6 377 C148 379 152 377 156 377.6 C158 378 160 378.2 161.8 378.4" fill="none" stroke="#b8726a" stroke-width="1.5" stroke-linecap="round"/>
</g>
<text x="223.00" y="298.70" font-size="6.6" text-anchor="middle" fill="#111" font-weight="bold" textLength="46" lengthAdjust="spacingAndGlyphs">Primary Tumor</text>
<line x1="213.10" y1="321.60" x2="213.10" y2="344.00" stroke="#b9b9bb" stroke-width="0.8"/>
<line x1="210.10" y1="321.60" x2="216.10" y2="321.60" stroke="#b9b9bb" stroke-width="0.8"/>
<line x1="210.10" y1="344.00" x2="216.10" y2="344.00" stroke="#b9b9bb" stroke-width="0.8"/>
<line x1="232.90" y1="330.00" x2="232.90" y2="345.00" stroke="#5f6fd0" stroke-width="0.9"/>
<line x1="229.90" y1="330.00" x2="235.90" y2="330.00" stroke="#5f6fd0" stroke-width="0.9"/>
<line x1="229.90" y1="345.00" x2="235.90" y2="345.00" stroke="#5f6fd0" stroke-width="0.9"/>
<rect x="206.60" y="333.00" width="13.00" height="46.60" fill="#949598"/>
<rect x="226.40" y="337.40" width="13.00" height="42.20" fill="#565eae"/>
<line x1="199.60" y1="312.10" x2="199.60" y2="380.10" stroke="#242424" stroke-width="1"/>
<line x1="197.20" y1="312.60" x2="199.60" y2="312.60" stroke="#242424" stroke-width="0.9"/>
<text x="196.60" y="314.58" font-size="5.5" text-anchor="end" fill="#111" font-weight="bold">0.6</text>
<line x1="197.20" y1="335.00" x2="199.60" y2="335.00" stroke="#242424" stroke-width="0.9"/>
<text x="196.60" y="336.98" font-size="5.5" text-anchor="end" fill="#111" font-weight="bold">0.4</text>
<line x1="197.20" y1="357.30" x2="199.60" y2="357.30" stroke="#242424" stroke-width="0.9"/>
<text x="196.60" y="359.28" font-size="5.5" text-anchor="end" fill="#111" font-weight="bold">0.2</text>
<line x1="197.20" y1="379.60" x2="199.60" y2="379.60" stroke="#242424" stroke-width="0.9"/>
<text x="196.60" y="381.58" font-size="5.5" text-anchor="end" fill="#111" font-weight="bold">0.0</text>
<line x1="199.10" y1="379.60" x2="246.00" y2="379.60" stroke="#242424" stroke-width="1"/>
<text x="185.30" y="344.70" font-size="7.4" font-weight="bold" text-anchor="middle" fill="#111" textLength="59.5" lengthAdjust="spacingAndGlyphs" transform="rotate(-90 185.30 344.70)">Tumor weight (g)</text>
<rect x="207.90" y="322.40" width="2.00" height="2.00" fill="#111"/>
<rect x="207.90" y="325.00" width="2.00" height="2.00" fill="#111"/>
<rect x="212.00" y="324.00" width="2.00" height="2.00" fill="#111"/>
<rect x="216.30" y="322.40" width="2.00" height="2.00" fill="#111"/>
<rect x="216.30" y="325.00" width="2.00" height="2.00" fill="#111"/>
<rect x="210.00" y="333.80" width="2.00" height="2.00" fill="#111"/>
<rect x="214.20" y="333.80" width="2.00" height="2.00" fill="#111"/>
<rect x="210.50" y="349.50" width="2.00" height="2.00" fill="#111"/>
<rect x="214.00" y="348.50" width="2.00" height="2.00" fill="#111"/>
<rect x="231.80" y="324.00" width="2.00" height="2.00" fill="#111"/>
<rect x="227.80" y="335.00" width="2.00" height="2.00" fill="#111"/>
<rect x="231.80" y="332.60" width="2.00" height="2.00" fill="#111"/>
<rect x="236.00" y="333.80" width="2.00" height="2.00" fill="#111"/>
<rect x="231.80" y="339.60" width="2.00" height="2.00" fill="#111"/>
<rect x="230.00" y="347.50" width="2.00" height="2.00" fill="#111"/>
<rect x="234.00" y="346.50" width="2.00" height="2.00" fill="#111"/>
<path d="M212.60 318.00 V314.00 H233.00 V320.00" fill="none" stroke="#242424" stroke-width="0.9"/>
<text x="222.80" y="311.20" font-size="6.4" text-anchor="middle" fill="#111">ns</text>
<line x1="213.10" y1="379.60" x2="213.10" y2="382.20" stroke="#242424" stroke-width="0.9"/>
<line x1="232.90" y1="379.60" x2="232.90" y2="382.20" stroke="#242424" stroke-width="0.9"/>
<text x="214.50" y="389.00" font-size="6.5" text-anchor="end" fill="#111" font-weight="bold" transform="rotate(-45 214.50 389.00)">Vehicle</text>
<text x="235.50" y="388.40" font-size="6.5" text-anchor="end" fill="#111" font-weight="bold" transform="rotate(-45 235.50 388.40)">TPST-1495</text>
<text x="296.00" y="298.70" font-size="6.6" text-anchor="middle" fill="#111" font-weight="bold" textLength="40" lengthAdjust="spacingAndGlyphs">Lung Weight</text>
<line x1="286.00" y1="338.20" x2="286.00" y2="359.00" stroke="#8f8f91" stroke-width="0.8"/>
<line x1="283.00" y1="338.20" x2="289.00" y2="338.20" stroke="#8f8f91" stroke-width="0.8"/>
<line x1="283.00" y1="359.00" x2="289.00" y2="359.00" stroke="#8f8f91" stroke-width="0.8"/>
<line x1="305.70" y1="348.60" x2="305.70" y2="359.40" stroke="#5f6fd0" stroke-width="0.9"/>
<line x1="302.70" y1="348.60" x2="308.70" y2="348.60" stroke="#5f6fd0" stroke-width="0.9"/>
<line x1="302.70" y1="359.40" x2="308.70" y2="359.40" stroke="#5f6fd0" stroke-width="0.9"/>
<rect x="279.40" y="348.60" width="13.20" height="31.00" fill="#949598"/>
<rect x="299.00" y="354.00" width="13.40" height="25.60" fill="#565eae"/>
<line x1="272.60" y1="311.90" x2="272.60" y2="380.10" stroke="#242424" stroke-width="1"/>
<line x1="270.20" y1="312.40" x2="272.60" y2="312.40" stroke="#242424" stroke-width="0.9"/>
<text x="269.60" y="314.38" font-size="5.5" text-anchor="end" fill="#111" font-weight="bold">0.6</text>
<line x1="270.20" y1="334.80" x2="272.60" y2="334.80" stroke="#242424" stroke-width="0.9"/>
<text x="269.60" y="336.78" font-size="5.5" text-anchor="end" fill="#111" font-weight="bold">0.4</text>
<line x1="270.20" y1="357.20" x2="272.60" y2="357.20" stroke="#242424" stroke-width="0.9"/>
<text x="269.60" y="359.18" font-size="5.5" text-anchor="end" fill="#111" font-weight="bold">0.2</text>
<line x1="270.20" y1="379.60" x2="272.60" y2="379.60" stroke="#242424" stroke-width="0.9"/>
<text x="269.60" y="381.58" font-size="5.5" text-anchor="end" fill="#111" font-weight="bold">0.0</text>
<line x1="272.10" y1="379.60" x2="319.00" y2="379.60" stroke="#242424" stroke-width="1"/>
<text x="259.00" y="345.20" font-size="7.4" font-weight="bold" text-anchor="middle" fill="#111" textLength="52" lengthAdjust="spacingAndGlyphs" transform="rotate(-90 259.00 345.20)">Lung weight (g)</text>
<rect x="284.60" y="322.40" width="2.00" height="2.00" fill="#111"/>
<rect x="285.00" y="345.00" width="2.00" height="2.00" fill="#111"/>
<rect x="281.00" y="349.00" width="2.00" height="2.00" fill="#111"/>
<rect x="285.00" y="350.00" width="2.00" height="2.00" fill="#111"/>
<rect x="289.00" y="349.00" width="2.00" height="2.00" fill="#111"/>
<rect x="283.00" y="352.50" width="2.00" height="2.00" fill="#111"/>
<rect x="287.00" y="352.50" width="2.00" height="2.00" fill="#111"/>
<rect x="285.00" y="360.00" width="2.00" height="2.00" fill="#111"/>
<rect x="304.50" y="344.50" width="2.00" height="2.00" fill="#111"/>
<rect x="302.00" y="349.50" width="2.00" height="2.00" fill="#111"/>
<rect x="307.50" y="349.00" width="2.00" height="2.00" fill="#111"/>
<rect x="301.00" y="353.00" width="2.00" height="2.00" fill="#111"/>
<rect x="305.00" y="353.00" width="2.00" height="2.00" fill="#111"/>
<rect x="308.50" y="354.50" width="2.00" height="2.00" fill="#111"/>
<rect x="303.00" y="356.50" width="2.00" height="2.00" fill="#111"/>
<rect x="305.00" y="361.50" width="2.00" height="2.00" fill="#111"/>
<path d="M285.60 319.00 V315.60 H306.00 V344.00" fill="none" stroke="#242424" stroke-width="0.9"/>
<text x="295.80" y="312.60" font-size="6.4" text-anchor="middle" fill="#111">ns</text>
<line x1="286.00" y1="379.60" x2="286.00" y2="382.20" stroke="#242424" stroke-width="0.9"/>
<line x1="305.70" y1="379.60" x2="305.70" y2="382.20" stroke="#242424" stroke-width="0.9"/>
<text x="287.40" y="389.00" font-size="6.5" text-anchor="end" fill="#111" font-weight="bold" transform="rotate(-45 287.40 389.00)">Vehicle</text>
<text x="308.30" y="388.40" font-size="6.5" text-anchor="end" fill="#111" font-weight="bold" transform="rotate(-45 308.30 388.40)">TPST-1495</text>
<text x="365.40" y="298.70" font-size="6.6" text-anchor="middle" fill="#111" font-weight="bold" textLength="38" lengthAdjust="spacingAndGlyphs">Liver Weight</text>
<line x1="355.80" y1="331.00" x2="355.80" y2="353.60" stroke="#8f8f91" stroke-width="0.8"/>
<line x1="352.80" y1="331.00" x2="358.80" y2="331.00" stroke="#8f8f91" stroke-width="0.8"/>
<line x1="352.80" y1="353.60" x2="358.80" y2="353.60" stroke="#8f8f91" stroke-width="0.8"/>
<line x1="375.50" y1="354.40" x2="375.50" y2="367.60" stroke="#5f6fd0" stroke-width="0.9"/>
<line x1="372.50" y1="354.40" x2="378.50" y2="354.40" stroke="#5f6fd0" stroke-width="0.9"/>
<line x1="372.50" y1="367.60" x2="378.50" y2="367.60" stroke="#5f6fd0" stroke-width="0.9"/>
<rect x="349.40" y="342.40" width="12.80" height="37.20" fill="#949598"/>
<rect x="369.00" y="361.00" width="13.00" height="18.60" fill="#565eae"/>
<line x1="342.40" y1="312.10" x2="342.40" y2="380.10" stroke="#242424" stroke-width="1"/>
<line x1="340.00" y1="312.60" x2="342.40" y2="312.60" stroke="#242424" stroke-width="0.9"/>
<text x="339.40" y="314.58" font-size="5.5" text-anchor="end" fill="#111" font-weight="bold">2.5</text>
<line x1="340.00" y1="326.00" x2="342.40" y2="326.00" stroke="#242424" stroke-width="0.9"/>
<text x="339.40" y="327.98" font-size="5.5" text-anchor="end" fill="#111" font-weight="bold">2.0</text>
<line x1="340.00" y1="339.40" x2="342.40" y2="339.40" stroke="#242424" stroke-width="0.9"/>
<text x="339.40" y="341.38" font-size="5.5" text-anchor="end" fill="#111" font-weight="bold">1.5</text>
<line x1="340.00" y1="352.80" x2="342.40" y2="352.80" stroke="#242424" stroke-width="0.9"/>
<text x="339.40" y="354.78" font-size="5.5" text-anchor="end" fill="#111" font-weight="bold">1.0</text>
<line x1="340.00" y1="366.20" x2="342.40" y2="366.20" stroke="#242424" stroke-width="0.9"/>
<text x="339.40" y="368.18" font-size="5.5" text-anchor="end" fill="#111" font-weight="bold">0.5</text>
<line x1="340.00" y1="379.60" x2="342.40" y2="379.60" stroke="#242424" stroke-width="0.9"/>
<text x="339.40" y="381.58" font-size="5.5" text-anchor="end" fill="#111" font-weight="bold">0.0</text>
<line x1="341.90" y1="379.60" x2="388.50" y2="379.60" stroke="#242424" stroke-width="1"/>
<text x="327.80" y="345.30" font-size="7.4" font-weight="bold" text-anchor="middle" fill="#111" textLength="54.7" lengthAdjust="spacingAndGlyphs" transform="rotate(-90 327.80 345.30)">Liver weight (g)</text>
<rect x="354.50" y="323.50" width="2.00" height="2.00" fill="#111"/>
<rect x="352.50" y="330.50" width="2.00" height="2.00" fill="#111"/>
<rect x="356.50" y="329.50" width="2.00" height="2.00" fill="#111"/>
<rect x="353.00" y="342.50" width="2.00" height="2.00" fill="#111"/>
<rect x="357.00" y="344.00" width="2.00" height="2.00" fill="#111"/>
<rect x="357.00" y="347.50" width="2.00" height="2.00" fill="#111"/>
<rect x="354.00" y="349.00" width="2.00" height="2.00" fill="#111"/>
<rect x="356.50" y="349.80" width="2.00" height="2.00" fill="#111"/>
<rect x="354.50" y="357.50" width="2.00" height="2.00" fill="#111"/>
<rect x="374.50" y="347.00" width="2.00" height="2.00" fill="#111"/>
<rect x="374.50" y="356.60" width="2.00" height="2.00" fill="#111"/>
<rect x="373.20" y="359.60" width="2.00" height="2.00" fill="#111"/>
<rect x="376.00" y="360.00" width="2.00" height="2.00" fill="#111"/>
<rect x="374.00" y="362.40" width="2.00" height="2.00" fill="#111"/>
<rect x="376.40" y="363.60" width="2.00" height="2.00" fill="#111"/>
<rect x="373.60" y="365.40" width="2.00" height="2.00" fill="#111"/>
<rect x="375.60" y="366.20" width="2.00" height="2.00" fill="#111"/>
<path d="M355.40 320.00 V316.40 H375.60 V345.00" fill="none" stroke="#242424" stroke-width="0.9"/>
<text x="365.50" y="316.60" font-size="6.5" text-anchor="middle" fill="#111" font-weight="bold">***</text>
<line x1="355.80" y1="379.60" x2="355.80" y2="382.20" stroke="#242424" stroke-width="0.9"/>
<line x1="375.50" y1="379.60" x2="375.50" y2="382.20" stroke="#242424" stroke-width="0.9"/>
<text x="357.20" y="389.00" font-size="6.5" text-anchor="end" fill="#111" font-weight="bold" transform="rotate(-45 357.20 389.00)">Vehicle</text>
<text x="378.10" y="388.40" font-size="6.5" text-anchor="end" fill="#111" font-weight="bold" transform="rotate(-45 378.10 388.40)">TPST-1495</text>
<text x="429.00" y="298.70" font-size="6.6" text-anchor="middle" fill="#111" font-weight="bold" textLength="32" lengthAdjust="spacingAndGlyphs">Lung Mets</text>
<line x1="419.10" y1="341.40" x2="419.10" y2="360.60" stroke="#8f8f91" stroke-width="0.8"/>
<line x1="416.10" y1="341.40" x2="422.10" y2="341.40" stroke="#8f8f91" stroke-width="0.8"/>
<line x1="416.10" y1="360.60" x2="422.10" y2="360.60" stroke="#8f8f91" stroke-width="0.8"/>
<line x1="439.00" y1="358.40" x2="439.00" y2="378.80" stroke="#5f6fd0" stroke-width="0.9"/>
<line x1="436.00" y1="358.40" x2="442.00" y2="358.40" stroke="#5f6fd0" stroke-width="0.9"/>
<line x1="436.00" y1="378.80" x2="442.00" y2="378.80" stroke="#5f6fd0" stroke-width="0.9"/>
<rect x="412.60" y="351.00" width="13.00" height="28.40" fill="#949598"/>
<rect x="432.40" y="368.60" width="13.20" height="10.80" fill="#565eae"/>
<line x1="405.40" y1="311.90" x2="405.40" y2="379.90" stroke="#242424" stroke-width="1"/>
<line x1="403.00" y1="312.40" x2="405.40" y2="312.40" stroke="#242424" stroke-width="0.9"/>
<text x="402.40" y="314.38" font-size="5.5" text-anchor="end" fill="#111" font-weight="bold">150</text>
<line x1="403.00" y1="334.70" x2="405.40" y2="334.70" stroke="#242424" stroke-width="0.9"/>
<text x="402.40" y="336.68" font-size="5.5" text-anchor="end" fill="#111" font-weight="bold">100</text>
<line x1="403.00" y1="357.00" x2="405.40" y2="357.00" stroke="#242424" stroke-width="0.9"/>
<text x="402.40" y="358.98" font-size="5.5" text-anchor="end" fill="#111" font-weight="bold">50</text>
<line x1="403.00" y1="379.40" x2="405.40" y2="379.40" stroke="#242424" stroke-width="0.9"/>
<text x="402.40" y="381.38" font-size="5.5" text-anchor="end" fill="#111" font-weight="bold">0</text>
<line x1="404.90" y1="379.40" x2="452.00" y2="379.40" stroke="#242424" stroke-width="1"/>
<text x="392.80" y="346.00" font-size="7.4" font-weight="bold" text-anchor="middle" fill="#111" textLength="41.6" lengthAdjust="spacingAndGlyphs" transform="rotate(-90 392.80 346.00)">Tumor count</text>
<rect x="418.00" y="331.50" width="2.00" height="2.00" fill="#111"/>
<rect x="418.00" y="346.50" width="2.00" height="2.00" fill="#111"/>
<rect x="414.50" y="349.50" width="2.00" height="2.00" fill="#111"/>
<rect x="422.00" y="349.50" width="2.00" height="2.00" fill="#111"/>
<rect x="416.00" y="351.50" width="2.00" height="2.00" fill="#111"/>
<rect x="420.00" y="352.00" width="2.00" height="2.00" fill="#111"/>
<rect x="418.00" y="357.00" width="2.00" height="2.00" fill="#111"/>
<rect x="418.00" y="366.00" width="2.00" height="2.00" fill="#111"/>
<rect x="438.00" y="349.50" width="2.00" height="2.00" fill="#111"/>
<rect x="436.00" y="364.00" width="2.00" height="2.00" fill="#111"/>
<rect x="442.00" y="364.50" width="2.00" height="2.00" fill="#111"/>
<rect x="438.00" y="368.00" width="2.00" height="2.00" fill="#111"/>
<rect x="434.00" y="378.00" width="2.00" height="2.00" fill="#111"/>
<rect x="438.00" y="375.00" width="2.00" height="2.00" fill="#111"/>
<rect x="442.00" y="378.00" width="2.00" height="2.00" fill="#111"/>
<rect x="438.00" y="381.00" width="2.00" height="2.00" fill="#111"/>
<path d="M419.00 327.40 V324.00 H439.60 V350.00" fill="none" stroke="#242424" stroke-width="0.9"/>
<text x="429.30" y="324.40" font-size="6.5" text-anchor="middle" fill="#111" font-weight="bold">**</text>
<line x1="419.10" y1="379.40" x2="419.10" y2="382.00" stroke="#242424" stroke-width="0.9"/>
<line x1="439.00" y1="379.40" x2="439.00" y2="382.00" stroke="#242424" stroke-width="0.9"/>
<text x="420.50" y="388.80" font-size="6.5" text-anchor="end" fill="#111" font-weight="bold" transform="rotate(-45 420.50 388.80)">Vehicle</text>
<text x="441.60" y="388.20" font-size="6.5" text-anchor="end" fill="#111" font-weight="bold" transform="rotate(-45 441.60 388.20)">TPST-1495</text>
<text x="498.40" y="298.70" font-size="6.6" text-anchor="middle" fill="#111" font-weight="bold" textLength="32" lengthAdjust="spacingAndGlyphs">Liver Mets</text>
<line x1="488.90" y1="335.50" x2="488.90" y2="372.50" stroke="#8f8f91" stroke-width="0.8"/>
<line x1="485.90" y1="335.50" x2="491.90" y2="335.50" stroke="#8f8f91" stroke-width="0.8"/>
<line x1="485.90" y1="372.50" x2="491.90" y2="372.50" stroke="#8f8f91" stroke-width="0.8"/>
<line x1="508.50" y1="367.00" x2="508.50" y2="375.00" stroke="#5f6fd0" stroke-width="0.9"/>
<line x1="505.50" y1="367.00" x2="511.50" y2="367.00" stroke="#5f6fd0" stroke-width="0.9"/>
<line x1="505.50" y1="375.00" x2="511.50" y2="375.00" stroke="#5f6fd0" stroke-width="0.9"/>
<rect x="482.40" y="354.00" width="13.00" height="25.20" fill="#949598"/>
<rect x="502.00" y="371.00" width="13.00" height="8.20" fill="#565eae"/>
<line x1="475.40" y1="311.50" x2="475.40" y2="379.70" stroke="#242424" stroke-width="1"/>
<line x1="473.00" y1="312.00" x2="475.40" y2="312.00" stroke="#242424" stroke-width="0.9"/>
<text x="472.40" y="313.98" font-size="5.5" text-anchor="end" fill="#111" font-weight="bold">20</text>
<line x1="473.00" y1="328.80" x2="475.40" y2="328.80" stroke="#242424" stroke-width="0.9"/>
<text x="472.40" y="330.78" font-size="5.5" text-anchor="end" fill="#111" font-weight="bold">15</text>
<line x1="473.00" y1="345.60" x2="475.40" y2="345.60" stroke="#242424" stroke-width="0.9"/>
<text x="472.40" y="347.58" font-size="5.5" text-anchor="end" fill="#111" font-weight="bold">10</text>
<line x1="473.00" y1="362.40" x2="475.40" y2="362.40" stroke="#242424" stroke-width="0.9"/>
<text x="472.40" y="364.38" font-size="5.5" text-anchor="end" fill="#111" font-weight="bold">5</text>
<line x1="473.00" y1="379.20" x2="475.40" y2="379.20" stroke="#242424" stroke-width="0.9"/>
<text x="472.40" y="381.18" font-size="5.5" text-anchor="end" fill="#111" font-weight="bold">0</text>
<line x1="472.90" y1="379.20" x2="520.00" y2="379.20" stroke="#242424" stroke-width="1"/>
<text x="462.80" y="345.60" font-size="7.4" font-weight="bold" text-anchor="middle" fill="#111" textLength="41.8" lengthAdjust="spacingAndGlyphs" transform="rotate(-90 462.80 345.60)">Tumor count</text>
<rect x="487.50" y="314.50" width="2.00" height="2.00" fill="#111"/>
<rect x="487.50" y="334.50" width="2.00" height="2.00" fill="#111"/>
<rect x="484.50" y="352.00" width="2.00" height="2.00" fill="#111"/>
<rect x="490.00" y="352.00" width="2.00" height="2.00" fill="#111"/>
<rect x="483.50" y="361.00" width="2.00" height="2.00" fill="#111"/>
<rect x="487.50" y="361.00" width="2.00" height="2.00" fill="#111"/>
<rect x="491.50" y="361.00" width="2.00" height="2.00" fill="#111"/>
<rect x="485.00" y="366.00" width="2.00" height="2.00" fill="#111"/>
<rect x="490.00" y="366.00" width="2.00" height="2.00" fill="#111"/>
<rect x="487.50" y="371.50" width="2.00" height="2.00" fill="#111"/>
<rect x="507.50" y="365.00" width="2.00" height="2.00" fill="#111"/>
<rect x="503.00" y="370.00" width="2.00" height="2.00" fill="#111"/>
<rect x="506.00" y="370.00" width="2.00" height="2.00" fill="#111"/>
<rect x="509.00" y="370.00" width="2.00" height="2.00" fill="#111"/>
<rect x="512.00" y="370.00" width="2.00" height="2.00" fill="#111"/>
<rect x="507.50" y="374.00" width="2.00" height="2.00" fill="#111"/>
<rect x="507.50" y="378.00" width="2.00" height="2.00" fill="#111"/>
<rect x="507.50" y="381.00" width="2.00" height="2.00" fill="#111"/>
<path d="M488.00 310.00 V307.00 H508.40 V364.00" fill="none" stroke="#242424" stroke-width="0.9"/>
<text x="498.20" y="307.00" font-size="6.5" text-anchor="middle" fill="#111" font-weight="bold">*</text>
<line x1="488.90" y1="379.20" x2="488.90" y2="381.80" stroke="#242424" stroke-width="0.9"/>
<line x1="508.50" y1="379.20" x2="508.50" y2="381.80" stroke="#242424" stroke-width="0.9"/>
<text x="490.30" y="388.60" font-size="6.5" text-anchor="end" fill="#111" font-weight="bold" transform="rotate(-45 490.30 388.60)">Vehicle</text>
<text x="511.10" y="388.00" font-size="6.5" text-anchor="end" fill="#111" font-weight="bold" transform="rotate(-45 511.10 388.00)">TPST-1495</text>
</svg>
</body>
</html>
